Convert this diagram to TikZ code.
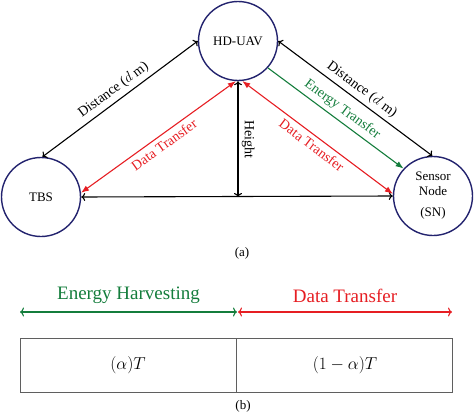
\documentclass[tikz,border=0pt]{standalone}
\usepackage{fontspec}
\setmainfont{Liberation Serif}
\usetikzlibrary{arrows.meta}
\definecolor{navyline}{RGB}{35,35,110}
\definecolor{etgreen}{RGB}{20,125,60}
\definecolor{dtred}{RGB}{230,30,35}
\definecolor{boxgray}{RGB}{95,95,95}
\begin{document}
\begin{tikzpicture}[x=1pt,y=-1pt,
    station/.style={circle, draw=navyline, line width=1.4pt, minimum size=79pt,
        inner sep=0pt, align=center, font=\fontsize{13}{15}\selectfont},
    link/.style={line width=1.1pt, {To[length=4pt,width=8pt]}-{To[length=4pt,width=8pt]}},
    flow/.style={line width=1.1pt},
    lbl/.style={font=\fontsize{14}{16}\selectfont, sloped, midway, inner sep=4pt},
    big/.style={font=\fontsize{19}{22}\selectfont}]
    \useasboundingbox (0,0) rectangle (474,415);

    % Nodes
    \node[station] (hd) at (238,41) {HD-UAV};
    \node[station] (tbs) at (41,197) {TBS};
    \node[station] (sn) at (433,196) {Sensor\\Node\\[6pt](SN)};
    \coordinate (base) at (hd.south |- tbs.east);

    % Distances and height
    \draw[link] (tbs.88) -- node[lbl, above] {Distance ($d$ m)} (hd.180);
    \draw[link] (hd.0) -- node[lbl, above] {Distance ($d$ m)} (sn.91);
    \draw[link] (tbs.east) -- (sn.west);
    \draw[link] (hd.south) -- node[midway, rotate=-90, anchor=south,
        font=\fontsize{14}{16}\selectfont] {Height} (base);

    % Energy and data transfer
    \draw[flow, etgreen, -{Latex[length=8pt,width=6pt]}] (hd.-42)
        -- node[lbl, above] {Energy Transfer} (sn.137);
    \draw[flow, dtred, {Latex[length=8pt,width=6pt]}-{Latex[length=8pt,width=6pt]}]
        (tbs.6) -- node[lbl, below] {Data Transfer} (hd.-93);
    \draw[flow, dtred, {Latex[length=8pt,width=6pt]}-{Latex[length=8pt,width=6pt]}]
        (hd.-84) -- node[lbl, below] {Data Transfer} (sn.177);

    \node[font=\fontsize{13}{15}\selectfont] (capa) at (242,253) {(a)};

    % Time frame
    \coordinate (eh0) at (20,312);
    \coordinate (mid) at (237,312);
    \coordinate (dt1) at (452,312);
    \draw[etgreen, line width=1.1pt, {To[length=4pt,width=9pt]}-{To[length=4pt,width=9pt]}]
        (eh0) -- node[big, above=5pt] {Energy Harvesting} (mid);
    \draw[dtred, line width=1.1pt, {To[length=4pt,width=9pt]}-{To[length=4pt,width=9pt]}]
        ([xshift=1pt]mid) -- node[big, above=5pt] {Data Transfer} (dt1);

    \draw[boxgray, line width=1pt] (20,338) rectangle (452,392);
    \draw[boxgray, line width=1pt] (236,338) -- (236,392);
    \node[big] (alpha) at (128,365) {$(\alpha)T$};
    \node[big] (oneminus) at (345,365) {$(1-\alpha)T$};

    \node[font=\fontsize{13}{15}\selectfont] (capb) at (243,406) {(b)};
\end{tikzpicture}
\end{document}
